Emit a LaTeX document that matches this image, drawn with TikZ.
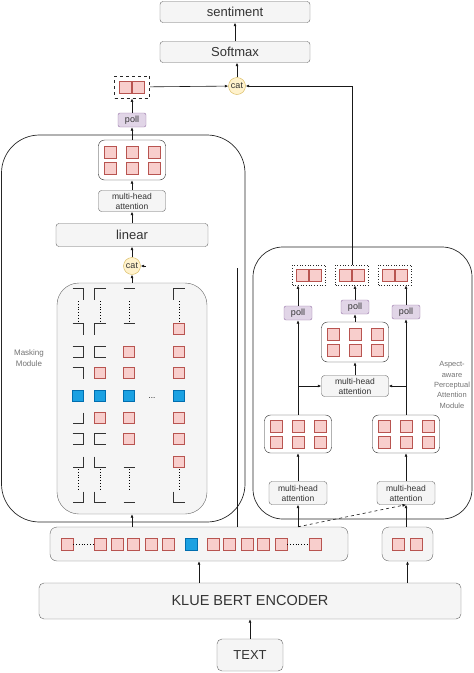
\documentclass[tikz,border=0pt]{standalone}
\usepackage{fontspec}
\setmainfont{Liberation Sans}
\usetikzlibrary{arrows.meta}
\definecolor{boxfill}{HTML}{F5F5F5}
\definecolor{boxline}{HTML}{666666}
\definecolor{tokfill}{HTML}{F8CECC}
\definecolor{tokline}{HTML}{B85450}
\definecolor{clsfill}{HTML}{1BA1E2}
\definecolor{clsline}{HTML}{006EAF}
\definecolor{pollfill}{HTML}{E1D5E7}
\definecolor{pollline}{HTML}{9673A6}
\definecolor{joinfill}{HTML}{FFF2CC}
\definecolor{joinline}{HTML}{D6B656}
\definecolor{labelcol}{HTML}{333333}
\begin{document}
\begin{tikzpicture}[x=1pt, y=-1pt,
  box/.style={draw=boxline, fill=boxfill, rounded corners=3pt, inner sep=0pt, text=labelcol, font=\fontsize{13}{15}\selectfont},
  mha/.style={box, align=center, minimum width=67pt, minimum height=21pt, font=\fontsize{8.5}{10}\selectfont},
  poll/.style={draw=pollline, fill=pollfill, rounded corners=2pt, inner sep=0pt, minimum width=28pt, minimum height=14pt, text=labelcol, font=\fontsize{9}{10}\selectfont},
  catjoin/.style={circle, draw=joinline, fill=joinfill, inner sep=0pt, minimum size=17pt, text=labelcol, font=\fontsize{9}{10}\selectfont},
  tokgrid/.style={draw=black!85, fill=white, rounded corners=6pt, minimum width=67pt, minimum height=40pt},
  pair/.style={draw=black!85, dotted, line width=0.7pt, minimum width=33pt, minimum height=20pt, inner sep=0pt},
  tok/.style={draw=tokline, fill=tokfill, inner sep=0pt, minimum size=12pt},
  cls/.style={draw=clsline, fill=clsfill, inner sep=0pt, minimum size=12pt},
  arr/.style={-{Latex[length=3.5pt,width=3pt]}, line width=0.6pt, black!90},
  modlabel/.style={align=center, text=black!55, font=\fontsize{7.5}{10.3}\selectfont},
  stub/.style={line width=0.9pt, black!80},
  open tr/.pic={\draw[stub] (-5.5,-5.5) -- (5.5,-5.5) -- (5.5,5.5);},
  open trb/.pic={\draw[stub] (-5.5,-5.5) -- (5.5,-5.5) -- (5.5,5.5) -- (-5.5,5.5);},
  open rb/.pic={\draw[stub] (5.5,-5.5) -- (5.5,5.5) -- (-5.5,5.5);},
  open tl/.pic={\draw[stub] (5.5,-5.5) -- (-5.5,-5.5) -- (-5.5,5.5);},
  open tlb/.pic={\draw[stub] (5.5,-5.5) -- (-5.5,-5.5) -- (-5.5,5.5) -- (5.5,5.5);},
  open bl/.pic={\draw[stub] (-5.5,-5.5) -- (-5.5,5.5) -- (5.5,5.5);},
  open t/.pic={\draw[stub] (-5.5,-5.5) -- (5.5,-5.5);},
  open b/.pic={\draw[stub] (-5.5,5.5) -- (5.5,5.5);}]
\useasboundingbox (0,0) rectangle (474,673);

% modules
\draw[line width=0.7pt, black!85, rounded corners=38pt] (1.5,135) rectangle (245,522);
\draw[line width=0.7pt, black!85, rounded corners=30pt] (253,247) rectangle (472,519);
\node (maskLabel) at (29,358) [modlabel, font=\fontsize{8}{11}\selectfont] {Masking\\Module};
\node (apamLabel) at (452,385) [modlabel] {Aspect-\\aware\\Perceptual\\Attention\\Module};

% output part
\node (sent) at (235,12) [box, minimum width=150pt, minimum height=21pt] {sentiment};
\node (soft) at (235,52) [box, minimum width=150pt, minimum height=21pt] {Softmax};
\node (catT) at (237,86) [catjoin] {cat};
\node (outT) at (132,87) [pair, dashed, line width=0.8pt, minimum width=35pt, minimum height=22pt] {};
\node (pollT) at (132,120) [poll] {poll};
\node (gridT) at (132,160) [tokgrid] {};
\node (mhaT) at (132,201) [mha] {multi-head\\attention};
\node (lin) at (132,235) [box, minimum width=152pt, minimum height=23pt] {linear};
\node (catL) at (132,266) [catjoin] {cat};
\node (mask) at (132,398.5) [box, rounded corners=22pt, minimum width=150pt, minimum height=231pt] {};

% aspect-aware part
\node (outL) at (309,275) [pair] {};
\node (outM) at (352,275) [pair] {};
\node (outR) at (395,275) [pair] {};
\node (pollL) at (298,313) [poll] {poll};
\node (pollM) at (355,307) [poll] {poll};
\node (pollR) at (406,312) [poll] {poll};
\node (gridM) at (355,342) [tokgrid] {};
\node (mhaM) at (355,386) [mha] {multi-head\\attention};
\node (gridL) at (298,434) [tokgrid, minimum height=38pt] {};
\node (gridR) at (406,434) [tokgrid, minimum height=38pt] {};
\node (mhaL) at (298,493) [mha, minimum width=58pt, minimum height=23pt] {multi-head\\attention};
\node (mhaR) at (406,493) [mha, minimum width=58pt, minimum height=23pt] {multi-head\\attention};

% encoder part
\node (emb) at (199,544) [box, rounded corners=7pt, minimum width=298pt, minimum height=34pt] {};
\node (asp) at (407.5,544) [box, rounded corners=7pt, minimum width=51pt, minimum height=34pt] {};
\node (enc) at (250,601) [box, rounded corners=5pt, minimum width=422pt, minimum height=36pt, font=\fontsize{14.5}{17}\selectfont] {KLUE BERT ENCODER};
\node (txt) at (250,655) [box, rounded corners=5pt, minimum width=66pt, minimum height=32pt] {TEXT};

% tokens
\foreach \x [count=\i] in {67,100,117,133,151,168,213,229,247,263,281,315}
  \node (e\i) at (\x,544) [tok] {};
\node (ecls) at (191,544) [cls] {};
\draw[dotted, line width=0.8pt] (e1) -- (e2);
\draw[dotted, line width=0.8pt] (e11) -- (e12);
\node (a1) at (398.5,544) [tok] {};
\node (a2) at (416.5,544) [tok] {};

\foreach \g in {gridT,gridM,gridL,gridR}
  \foreach \dx [count=\i] in {-22,0,22}
    \foreach \dy [count=\j] in {-8,8}
      \node (\g\i\j) at ([shift={(\dx,\dy)}]\g) [tok] {};
\foreach \p in {outT,outL,outM,outR} {
  \node (\p1) at ([xshift=-6.5pt]\p) [tok] {};
  \node (\p2) at ([xshift=6.5pt]\p) [tok] {};
}

% masking grid
\foreach \x/\y in {100/373,100/418,129/352,129/373,129/418,129/439,179/329,179/352,179/373,179/418,179/439,179/462}
  \node (m\x-\y) at (\x,\y) [tok, minimum size=11pt] {};
\foreach \x in {78,100,129,179}
  \node (c\x) at (\x,396) [cls, minimum size=11pt] {};
\foreach \x/\y/\t in {78/294/tr,78/329/tr,78/352/trb,78/373/tr,78/418/rb,78/439/trb,78/462/rb,78/497/rb,
  100/294/tl,100/329/tl,100/352/tlb,100/439/tlb,100/462/bl,100/497/bl,
  129/294/t,129/329/t,129/462/b,129/497/b,179/294/tl,179/497/bl}
  \pic at (\x,\y) {open \t};
\foreach \x in {78,100,129,179} {
  \draw[dotted, line width=0.8pt] (\x,301) -- (\x,322);
  \draw[dotted, line width=0.8pt] (\x,469) -- (\x,490);
}
\node (mdots) at (152,398) [font=\fontsize{8}{10}\selectfont] {...};

% connectors
\draw[arr] (soft) -- (sent);
\draw[arr] (catT) -- (catT |- soft.south);
\draw[arr] (outT) -- (catT);
\draw[arr] (outM.north) |- (catT.east);
\draw[arr] (pollT) -- (outT);
\draw[arr] (gridT) -- (pollT);
\draw[arr] (mhaT) -- (gridT);
\draw[arr] (lin) -- (mhaT);
\draw[arr] (catL) -- (lin);
\draw[arr] (mask) -- (catL);
\draw[arr] (emb.north -| mask) -- (mask.south);
\coordinate (catIn) at (146,266);
\draw[arr] (catIn) -- (catL);
\coordinate (sideTop) at (237,268);
\draw[line width=0.6pt, black!90] (emb.north -| sideTop) -- (sideTop);

\draw[arr] (emb.north -| mhaL) -- (mhaL);
\draw[arr, dashed] (emb.north -| mhaL) -- (mhaR.south);
\draw[arr] (asp.north -| mhaR) -- (mhaR);
\draw[arr] (mhaL) -- (gridL);
\draw[arr] (mhaR) -- (gridR);
\draw[arr] (gridL) -- (pollL);
\draw[arr] (gridR) -- (pollR);
\draw[arr] (pollL) -- (pollL |- outL.south);
\draw[arr] (pollR) -- (pollR |- outR.south);
\draw[arr] (gridL.north |- mhaM) -- (mhaM);
\draw[arr] (gridR.north |- mhaM) -- (mhaM);
\draw[arr] (mhaM) -- (gridM);
\draw[arr] (gridM) -- (pollM);
\draw[arr] (pollM) -- (pollM |- outM.south);

\draw[arr] (txt) -- (enc);
\draw[arr] (enc.north -| emb) -- (emb);
\draw[arr] (enc.north -| asp) -- (asp);
\end{tikzpicture}
\end{document}
